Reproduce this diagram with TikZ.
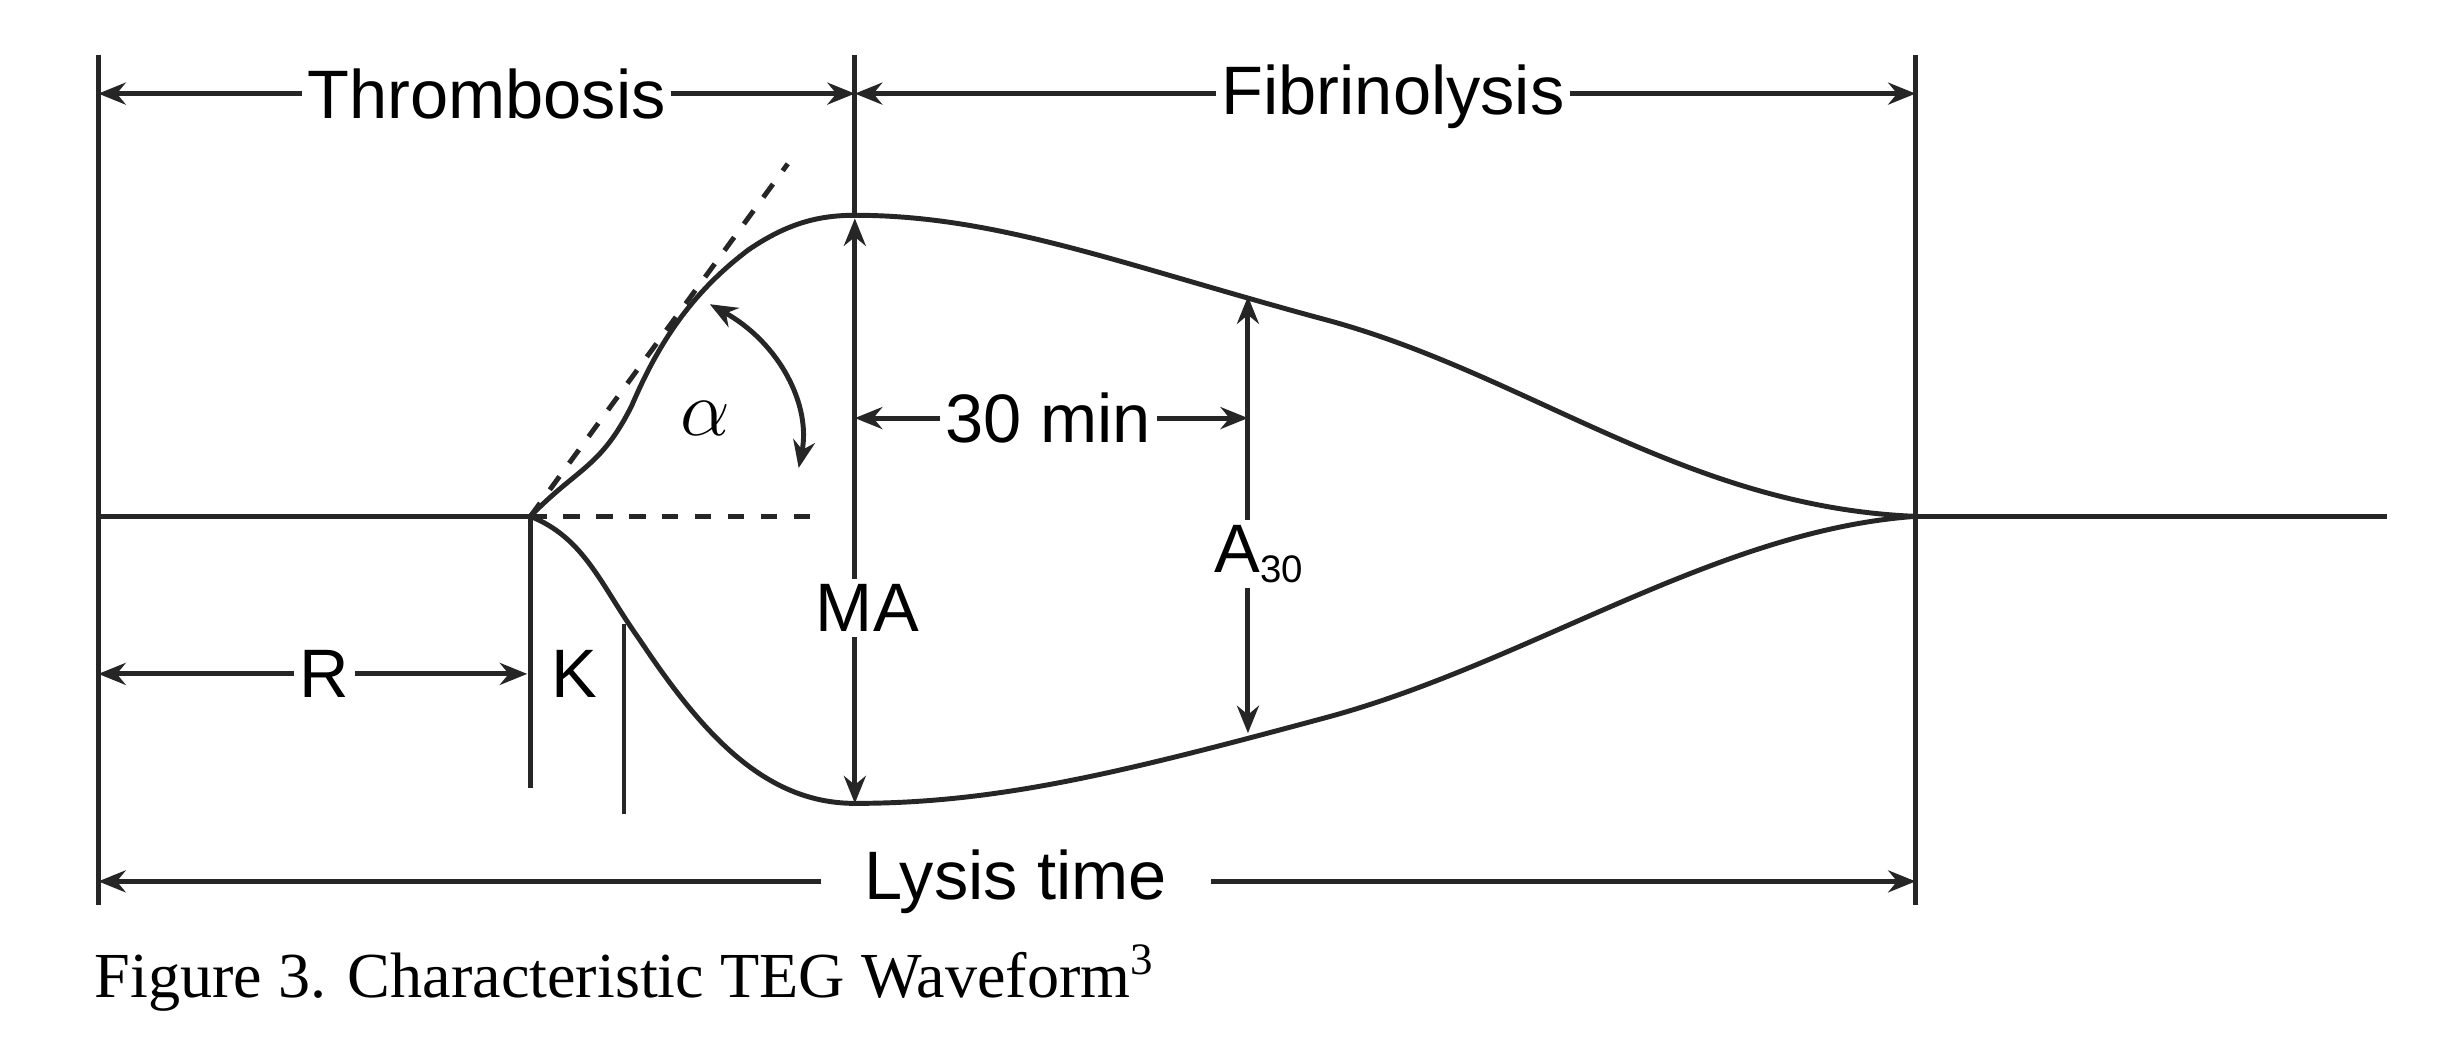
\documentclass[tikz,border=0pt]{standalone}
\usepackage{fontspec}
\setmainfont{Liberation Sans}
\newfontfamily\serifcap{Liberation Serif}
\usetikzlibrary{arrows.meta}
\begin{document}
\begin{tikzpicture}[x=0.01cm,y=-0.01cm,
  ln/.style={line width=0.9pt,black!85},
  dim/.style={line width=0.9pt,black!85,{Stealth[length=5pt,width=4pt]}-{Stealth[length=5pt,width=4pt]}},
  lbl/.style={font=\fontsize{12.5pt}{14pt}\selectfont,fill=white,inner sep=1pt}]
\useasboundingbox (0,0) rectangle (1568,681);
% coordinates
\coordinate (L1) at (63,35); \coordinate (L2) at (63,580);
\coordinate (M1) at (548,35); \coordinate (M2) at (548,140);
\coordinate (Rt1) at (1228,35); \coordinate (Rt2) at (1228,580);
\coordinate (S) at (340,331); \coordinate (E) at (1228,331);
% verticals
\draw[ln] (L1) -- (L2);
\draw[ln] (M1) -- (M2);
\draw[ln] (Rt1) -- (Rt2);
\draw[ln] (S) -- (340,505);
\draw[ln] (400,400) -- (400,522);
% baseline
\draw[ln] (63,331) -- (S);
\draw[ln] (E) -- (1530,331);
% curves
\draw[ln] (S) .. controls (370,300) and (385,300) .. (405,260)
  .. controls (420,225) and (440,190) .. (480,160)
  .. controls (505,143) and (525,138) .. (548,138)
  .. controls (640,138) and (720,170) .. (850,205)
  .. controls (980,240) and (1080,325) .. (E);
\draw[ln] (S) .. controls (375,345) and (385,375) .. (410,410)
  .. controls (450,470) and (490,515) .. (548,515)
  .. controls (640,515) and (720,495) .. (850,460)
  .. controls (980,425) and (1100,340) .. (E);
% dashed
\draw[ln,dashed] (S) -- (505,105);
\draw[ln,dashed] (S) -- (525,331);
% alpha arc
\draw[dim] (455,195) .. controls (500,220) and (520,260) .. (512,300);
\node[font=\fontsize{14pt}{16pt}\selectfont] (al) at (452,268) {$\alpha$};
% dimension arrows
\coordinate (ma1) at (548,140); \coordinate (ma2) at (548,515);
\draw[dim] (ma1) -- (ma2);
\node[lbl] (ma) at (556,390) {MA};
\coordinate (t1) at (63,60); \coordinate (t2) at (548,60); \coordinate (t3) at (1228,60);
\draw[dim] (t1) -- (t2); \draw[dim] (t2) -- (t3);
\node[lbl] (thr) at (312,60) {Thrombosis};
\node[lbl] (fib) at (893,62) {Fibrinolysis};
\coordinate (m1) at (548,268); \coordinate (m2) at (800,268);
\draw[dim] (m1) -- (m2);
\node[lbl] (min) at (672,268) {30 min};
\coordinate (a1) at (800,190); \coordinate (a2) at (800,470);
\draw[dim] (a1) -- (a2);
\node[lbl] (a30) at (808,355) {A\textsubscript{\fontsize{7pt}{8pt}\selectfont 30}};
\coordinate (r1) at (63,432); \coordinate (r2) at (338,432);
\draw[dim] (r1) -- (r2);
\node[lbl] (R) at (208,432) {R};
\node[font=\fontsize{12.5pt}{14pt}\selectfont] (K) at (368,432) {K};
\coordinate (y1) at (63,565); \coordinate (y2) at (1228,565);
\draw[dim] (y1) -- (y2);
\node[lbl,inner xsep=8pt] (lys) at (651,565) {Lysis time};
% caption
\node[anchor=west,font=\serifcap\fontsize{11.7pt}{14pt}\selectfont,inner sep=0] (cap) at (60,627) {Figure 3. Characteristic TEG Waveform\textsuperscript{3}};
\end{tikzpicture}
\end{document}
